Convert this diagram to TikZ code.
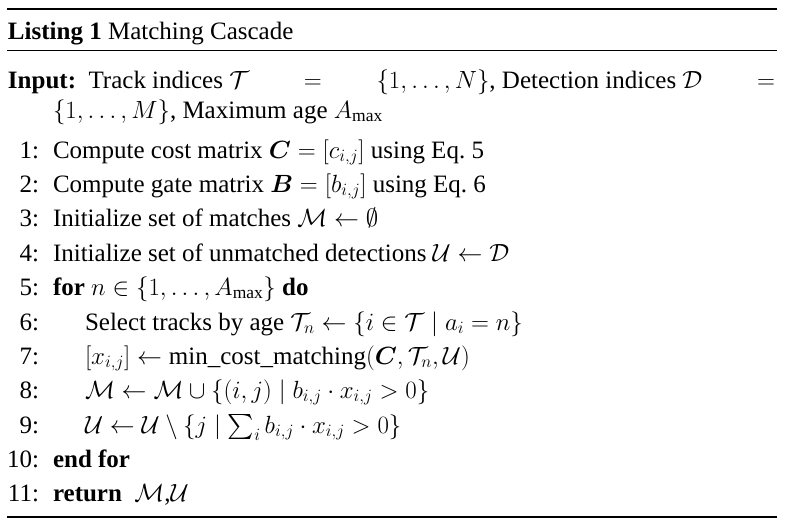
\documentclass[tikz,border=0pt]{standalone}
\usepackage{amsmath,amssymb}
\usepackage{fontspec}
\setmainfont{Liberation Serif}
\begin{document}
\begin{tikzpicture}[x=1pt,y=-1pt,
  every node/.style={inner sep=0pt,outer sep=0pt,font=\fontsize{25}{34}\selectfont},
  num/.style={anchor=base east},
  txt/.style={anchor=base west}]
\useasboundingbox (0,0) rectangle (786,527);
\draw[line width=2pt] (7,9) -- (777,9);
\draw[line width=1pt] (7,51) -- (777,51);
\draw[line width=1.5pt] (7,517) -- (777,517);
\node[txt] (title) at (8,40) {\textbf{Listing 1} Matching Cascade};
\node[txt] (input) at (8,88)
 {\makebox[767pt][l]{\textbf{Input:}\ \ Track indices $\mathcal{T}$\hfill$=$\hfill$\{1,\ldots,N\}$, Detection indices $\mathcal{D}$\hfill$=$}};
\node[txt] (input2) at (53,118) {$\{1,\ldots,M\}$, Maximum age $A_{\max}$};
\foreach \n/\y in {1/158,2/192,3/226,4/261,5/295,6/330,7/364,8/398,9/433,10/467,11/501}
  \node[num] (n\n) at (39,\y) {\n:};
\node[txt] (l1) at (53,158) {Compute cost matrix $\boldsymbol{C}=[c_{i,j}]$ using Eq.~5};
\node[txt] (l2) at (53,192) {Compute gate matrix $\boldsymbol{B}=[b_{i,j}]$ using Eq.~6};
\node[txt] (l3) at (53,226) {Initialize set of matches $\mathcal{M}\leftarrow\emptyset$};
\node[txt] (l4) at (53,261) {Initialize set of unmatched detections $\mathcal{U}\leftarrow\mathcal{D}$};
\node[txt] (l5) at (53,295) {\textbf{for} $n\in\{1,\ldots,A_{\max}\}$ \textbf{do}};
\node[txt] (l6) at (85,330) {Select tracks by age $\mathcal{T}_n\leftarrow\{i\in\mathcal{T}\mid a_i=n\}$};
\node[txt] (l7) at (85,364) {$[x_{i,j}]\leftarrow\mathrm{min\_cost\_matching}(\boldsymbol{C},\mathcal{T}_n,\mathcal{U})$};
\node[txt] (l8) at (85,398) {$\mathcal{M}\leftarrow\mathcal{M}\cup\{(i,j)\mid b_{i,j}\cdot x_{i,j}>0\}$};
\node[txt] (l9) at (85,433) {$\mathcal{U}\leftarrow\mathcal{U}\setminus\{j\mid \sum_i b_{i,j}\cdot x_{i,j}>0\}$};
\node[txt] (l10) at (53,467) {\textbf{end for}};
\node[txt] (l11) at (53,501) {\textbf{return} \ $\mathcal{M}$,$\mathcal{U}$};
\end{tikzpicture}
\end{document}
